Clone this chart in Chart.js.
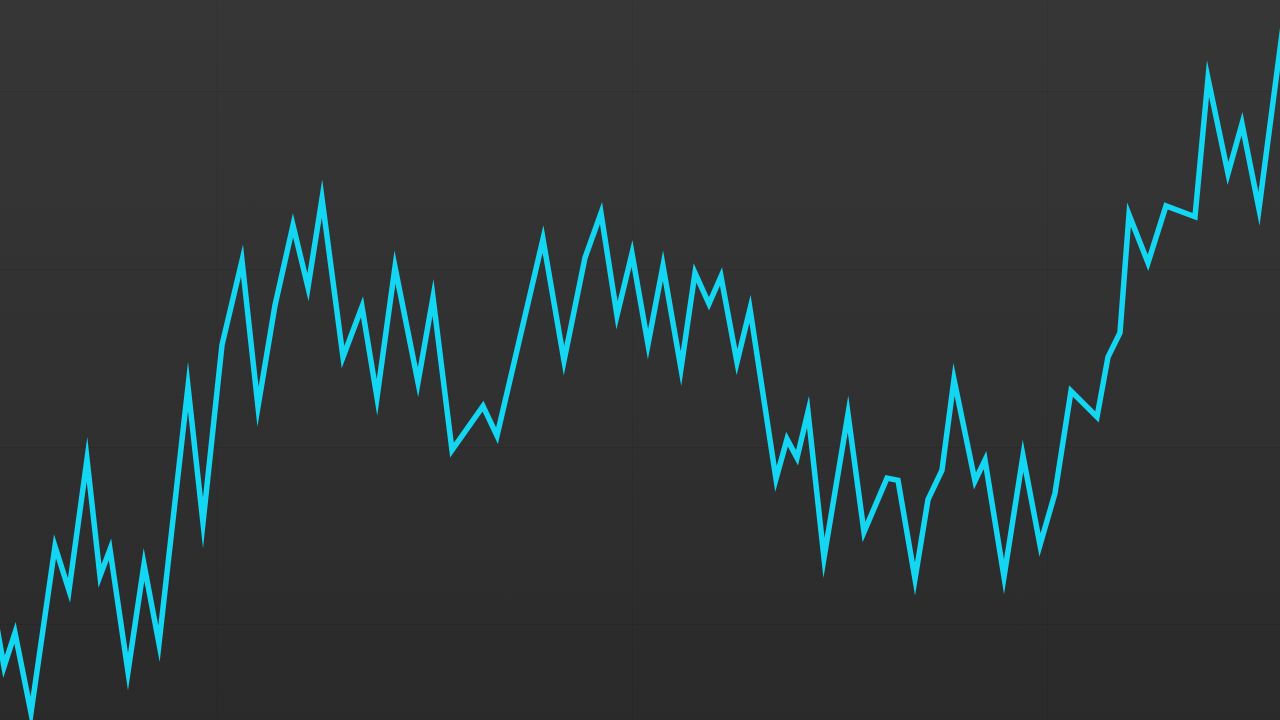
<!DOCTYPE html>
<html>
<head>
<meta charset="utf-8">
<script src="https://cdn.jsdelivr.net/npm/chart.js@4/dist/chart.umd.min.js"></script>
<style>
  html, body { margin: 0; padding: 0; }
  body { width: 1280px; height: 720px; overflow: hidden;
         background: linear-gradient(to bottom, #363636 0%, #313131 50%, #2a2a2a 100%); }
  #wrap { position: relative; width: 1280px; height: 720px; }
</style>
</head>
<body>
<div id="wrap"><canvas id="c"></canvas></div>
<script>
// Time (days) and value readings of each vertex of the line
const days = [-0.8, 0.4, 1.5, 3.1, 5.5, 6.9, 8.7, 10.0, 11.0, 12.8, 14.4, 15.9, 18.8, 20.3, 22.2, 24.2,
  25.8, 27.5, 29.3, 30.8, 32.2, 34.3, 36.2, 37.7, 39.5, 41.8, 43.3, 45.2, 48.3, 49.7, 54.3, 56.4,
  58.5, 60.1, 61.7, 63.2, 64.8, 66.3, 68.1, 69.5, 70.9, 72.1, 73.7, 75.0, 77.6, 78.7, 79.7, 80.8,
  82.4, 84.8, 86.4, 88.7, 89.8, 91.5, 92.8, 94.2, 95.4, 97.5, 98.5, 100.4, 102.3, 104.0, 105.5,
  107.1, 109.7, 110.8, 112.0, 112.9, 114.8, 116.6, 119.5, 120.8, 122.8, 124.2, 125.9, 128.5];
const values = [16.7, 7.4, 12.1, 1.0, 24.1, 18.0, 36.2, 20.0, 23.7, 6.7, 21.6, 10.6, 46.3, 27.4, 52.1, 63.8,
  43.5, 57.6, 68.7, 60.1, 72.4, 50.4, 57.4, 44.8, 62.9, 46.9, 58.7, 37.5, 43.6, 39.5, 66.8, 49.9,
  64.2, 70.4, 56.2, 64.8, 52.2, 63.1, 48.8, 62.1, 57.8, 61.6, 49.7, 57.1, 33.5, 39.0, 36.4, 42.8,
  22.5, 42.5, 26.1, 33.6, 33.3, 19.6, 30.6, 34.7, 47.3, 33.2, 36.1, 19.9, 36.7, 24.3, 31.5,
  45.7, 42.1, 50.4, 53.8, 70.2, 63.5, 71.4, 69.9, 89.1, 75.9, 82.8, 71.0, 98.5];
// Faint grid positions
const gridX = [21.7, 63.2, 104.7];
const gridY = [13.2, 37.9, 62.6, 87.3];

const points = days.map((d, i) => ({ x: d, y: values[i] }));
const gridColor = 'rgba(0,0,0,0.07)';

const miterPlugin = {
  id: 'miter',
  beforeDatasetsDraw(chart) { chart.ctx.miterLimit = 30; }
};

new Chart(document.getElementById('c'), {
  type: 'line',
  data: {
    datasets: [{
      data: points,
      borderColor: '#12d6f2',
      borderWidth: 5.5,
      tension: 0,
      pointRadius: 0,
      pointHoverRadius: 0,
      fill: false,
      borderJoinStyle: 'miter',
      clip: false
    }]
  },
  plugins: [miterPlugin],
  options: {
    responsive: true,
    maintainAspectRatio: false,
    animation: false,
    layout: { padding: 0 },
    plugins: { legend: { display: false }, tooltip: { enabled: false } },
    events: [],
    scales: {
      x: {
        type: 'linear', min: 0, max: 128,
        afterBuildTicks: (ax) => { ax.ticks = gridX.map(v => ({ value: v })); },
        ticks: { display: false, padding: 0 },
        grid: { color: gridColor, lineWidth: 1, drawTicks: false },
        border: { display: false }
      },
      y: {
        type: 'linear', min: 0, max: 100,
        afterBuildTicks: (ax) => { ax.ticks = gridY.map(v => ({ value: v })); },
        ticks: { display: false, padding: 0 },
        grid: { color: gridColor, lineWidth: 1, drawTicks: false },
        border: { display: false }
      }
    }
  }
});
</script>
</body>
</html>
